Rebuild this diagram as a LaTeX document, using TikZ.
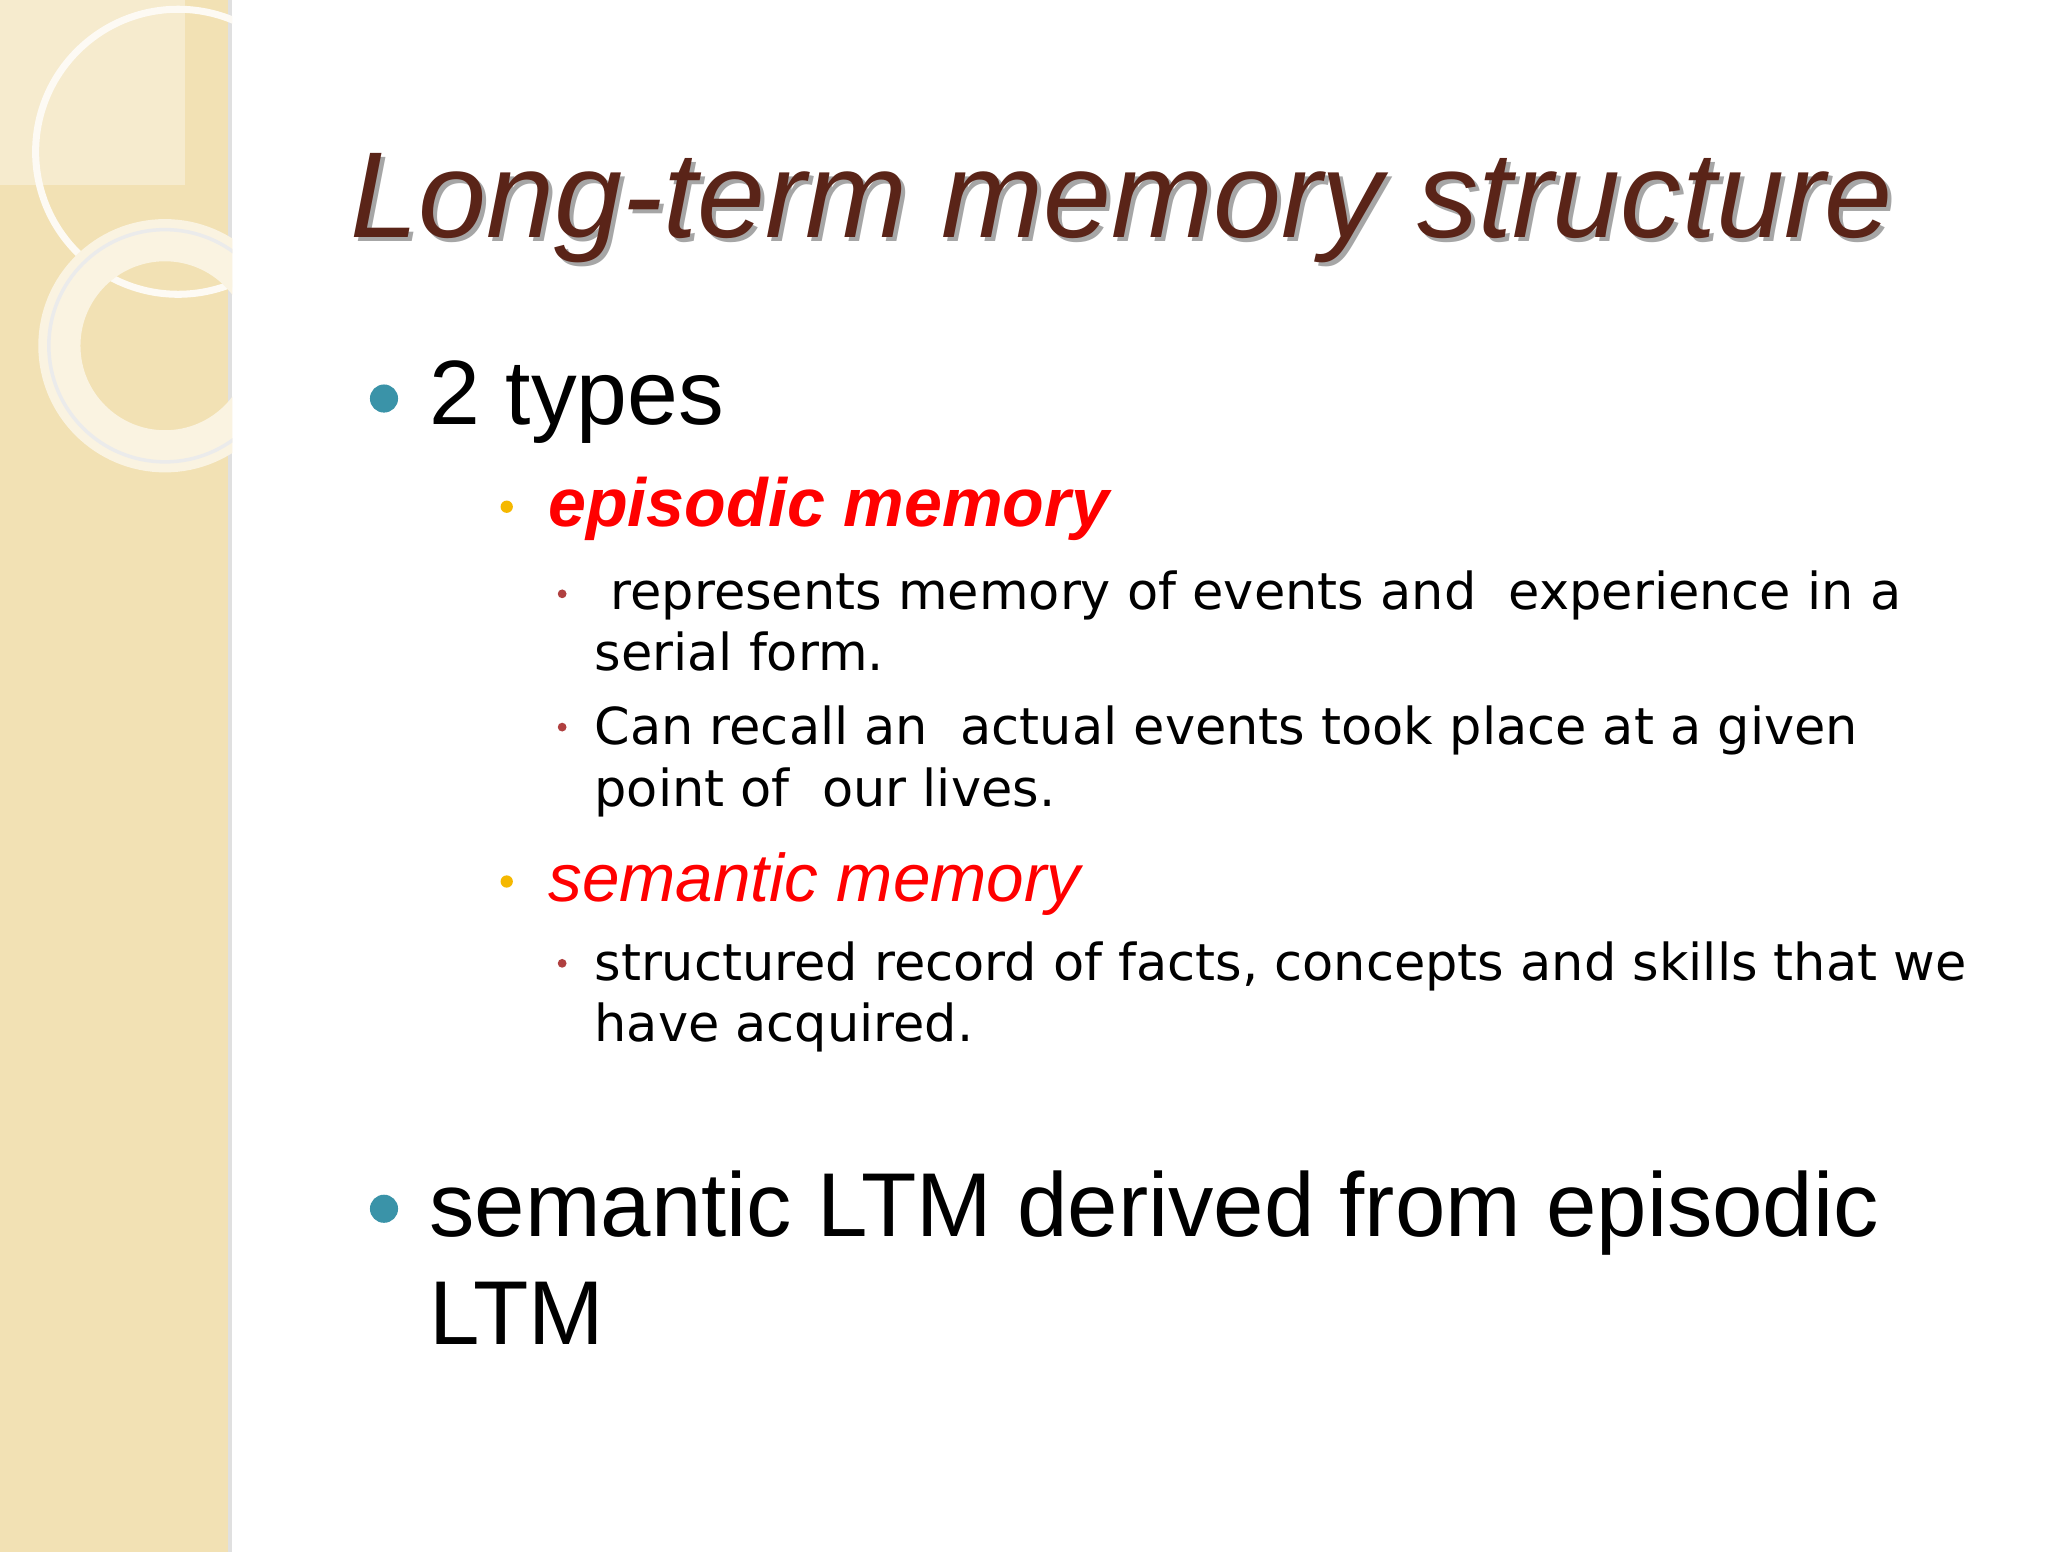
\documentclass[tikz,border=0pt]{standalone}
\usepackage{fontspec}
\setmainfont{Liberation Sans}
\newfontfamily\verd{DejaVu Sans}
\begin{document}
\begin{tikzpicture}[x=0.013196cm,y=-0.013196cm]
\definecolor{stripe}{HTML}{F2E1B4}
\definecolor{titlec}{HTML}{5A2418}
\definecolor{teal}{HTML}{3A93A8}
\definecolor{orng}{HTML}{F5B800}
\definecolor{subb}{HTML}{B04040}
\tikzset{txt/.style={anchor=base west,inner sep=0pt},
 sub/.style={txt,font=\verd\fontsize{14.5}{17}\selectfont},
 dotb/.style={circle,fill=#1,inner sep=0pt}}
\useasboundingbox (0,0) rectangle (1552,1176);
\fill[white] (0,0) rectangle (1552,1176);
\fill[stripe] (0,0) rectangle (173,1176);
\fill[black!12] (173,0) rectangle (176,1176);
\begin{scope}
\clip (0,0) rectangle (176,400);
\fill[white,opacity=0.35] (0,0) rectangle (140,140);
\draw[white!85!stripe,line width=2pt] (135,115) circle (108);
\draw[white!60!stripe,line width=12pt] (125,262) circle (80);
\draw[black!8,line width=1pt] (125,262) circle (88);
\end{scope}
% title
\node[txt,font=\itshape\fontsize{34.8}{40}\selectfont,text=black!35] (tsh) at (268,183) {Long-term memory structure};
\node[txt,font=\itshape\fontsize{34.8}{40}\selectfont,text=titlec] (title) at (265,180) {Long-term memory structure};
% bullet 1
\node[dotb=teal,minimum size=8pt] (b1) at (291,302) {};
\node[txt,font=\fontsize{26}{30}\selectfont] (t1) at (325,322) {2 types};
\node[dotb=orng,minimum size=3.5pt] (b2) at (384,384) {};
\node[txt,font=\bfseries\itshape\fontsize{19.4}{22}\selectfont,text=red] (t2) at (415,399) {episodic memory};
\node[dotb=subb,minimum size=2.5pt] (b3) at (426,450) {};
\node[sub] (t3) at (450,462) {\ represents memory of events and\ \ experience in a};
\node[sub] (t3b) at (450,508) {serial form.};
\node[dotb=subb,minimum size=2.5pt] (b4) at (426,551) {};
\node[sub] (t4) at (450,564) {Can recall an\ \ actual events took place at a given};
\node[sub] (t4b) at (450,611) {point of\ \ our lives.};
\node[dotb=orng,minimum size=3.5pt] (b5) at (384,668) {};
\node[txt,font=\itshape\fontsize{19.2}{22}\selectfont,text=red] (t5) at (415,683) {semantic memory};
\node[dotb=subb,minimum size=2.5pt] (b6) at (426,730) {};
\node[sub] (t6) at (450,743) {structured record of facts, concepts and skills that we};
\node[sub] (t6b) at (450,789) {have acquired.};
% bullet 2
\node[dotb=teal,minimum size=8pt] (b7) at (291,916) {};
\node[txt,font=\fontsize{25.8}{30}\selectfont] (t7) at (325,937) {semantic LTM derived from episodic};
\node[txt,font=\fontsize{25.8}{30}\selectfont] (t7b) at (325,1019) {LTM};
\end{tikzpicture}
\end{document}
